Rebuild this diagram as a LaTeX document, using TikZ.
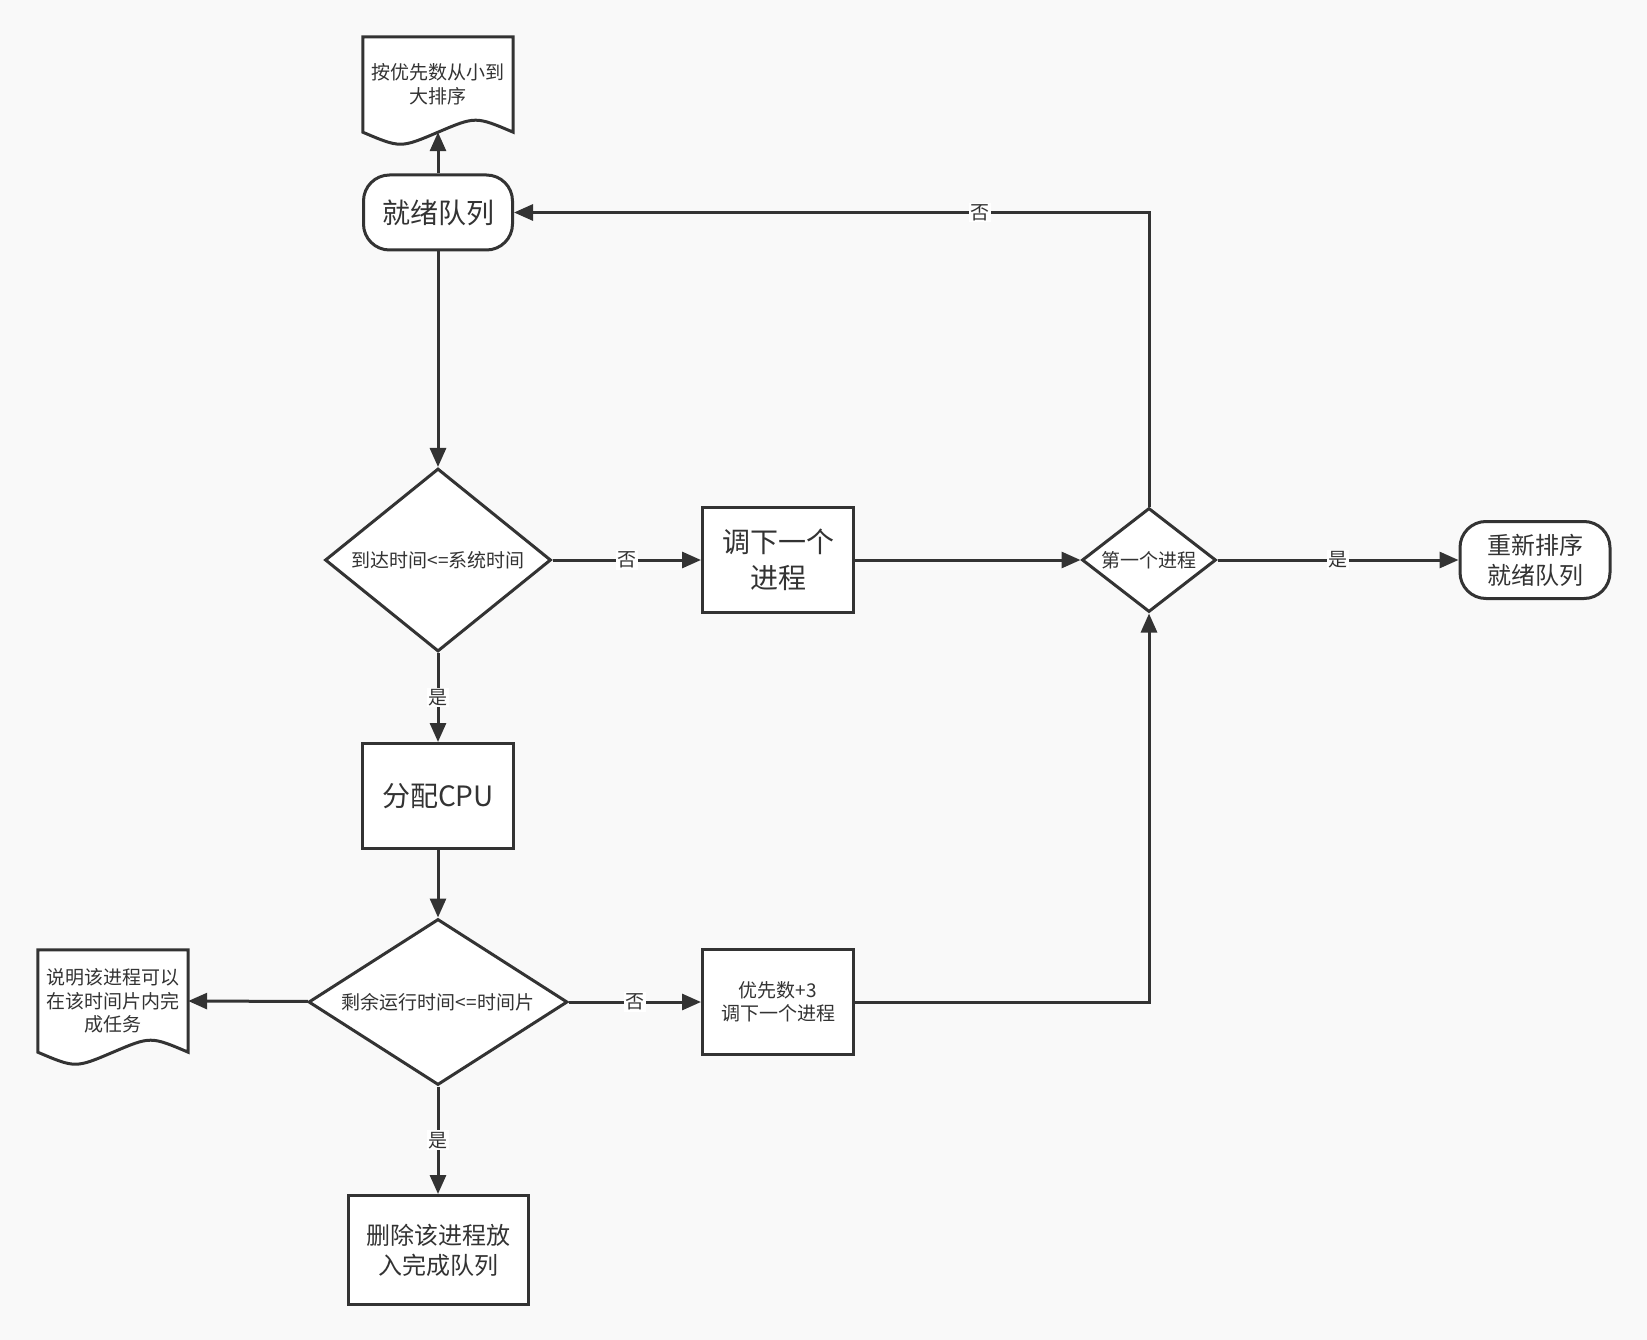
\documentclass[tikz,border=0pt]{standalone}
\usepackage{fontspec}
\setmainfont{Noto Sans CJK SC}
\usetikzlibrary{shapes.geometric,arrows.meta,backgrounds,calc}
\definecolor{linegray}{HTML}{333333}
\definecolor{pagegray}{HTML}{F9F9F9}
\newcommand{\smallcn}{\fontsize{19pt}{23.5pt}\selectfont}
\newcommand{\midcn}{\fontsize{24pt}{30pt}\selectfont}
\newcommand{\bigcn}{\fontsize{28pt}{36pt}\selectfont}
% document shape with wavy bottom, drawn behind the node text
\newcommand{\docshape}[1]{%
  \begin{pgfonlayer}{background}
    \filldraw[fill=white,draw=linegray,line width=3pt]
      (#1.south west) -- (#1.north west) -- (#1.north east) -- (#1.south east)
      .. controls ($(#1.south east)!0.5!(#1.south)+(0,-16)$) .. (#1.south)
      .. controls ($(#1.south west)!0.5!(#1.south)+(0,16)$) .. (#1.south west) -- cycle;
  \end{pgfonlayer}}
\begin{document}
\begin{tikzpicture}[x=1pt,y=-1pt,
    every node/.style={text=linegray},
    term/.style={draw=linegray,fill=white,line width=3pt,rounded corners=26pt,minimum width=149pt,minimum height=75pt,align=center},
    proc/.style={draw=linegray,fill=white,line width=3pt,minimum width=151pt,minimum height=105pt,align=center},
    decide/.style={diamond,draw=linegray,fill=white,line width=3pt,inner sep=0pt,font=\smallcn},
    doc/.style={inner sep=0pt,minimum width=150pt,align=center,font=\smallcn},
    link/.style={draw=linegray,line width=3pt,-{Triangle[length=19pt,width=16pt]}},
    yesno/.style={fill=white,inner sep=1.5pt,font=\smallcn}]
    \begin{pgfonlayer}{background}
        \fill[pagegray] (0,0) rectangle (1647,1340);
    \end{pgfonlayer}
    \useasboundingbox (0,0) rectangle (1647,1340);

    \node[doc,minimum height=95pt] (sortdoc) at (438,84.5) {按优先数从小到\\大排序};
    \node[term,font=\bigcn] (ready) at (438,212.5) {就绪队列};
    \node[decide,minimum width=226pt,minimum height=183pt,shape aspect=1.24] (arrive) at (438,560) {到达时间<=系统时间};
    \node[proc,font=\bigcn] (nextproc) at (778,560) {调下一个\\进程};
    \node[decide,minimum width=134pt,minimum height=104pt,shape aspect=1.29] (first) at (1149,560) {第一个进程};
    \node[term,font=\midcn,minimum width=150pt,minimum height=77pt] (resort) at (1535,560) {重新排序\\就绪队列};
    \node[proc,font=\bigcn] (cpu) at (438,796) {分配CPU};
    \node[decide,minimum width=259pt,minimum height=166pt,shape aspect=1.56] (remain) at (438,1002) {剩余运行时间<=时间片};
    \node[proc,font=\smallcn] (prio) at (778,1002) {优先数+3\\调下一个进程};
    \node[doc,minimum height=102pt] (donedoc) at (113,1001) {说明该进程可以\\在该时间片内完\\成任务};
    \node[proc,font=\midcn,minimum width=180pt,minimum height=109pt] (delete) at (438,1250) {删除该进程放\\入完成队列};

    \docshape{sortdoc}
    \docshape{donedoc}

    \draw[link] (ready.north) -- (sortdoc.south);
    \draw[link] (ready) -- (arrive);
    \draw[link] (arrive) -- node[yesno] {否} (nextproc);
    \draw[link] (nextproc) -- (first);
    \draw[link] (first) -- node[yesno] {是} (resort);
    \draw[link] (first.north) |- node[yesno,pos=0.633] {否} (ready.east);
    \draw[link] (arrive) -- node[yesno] {是} (cpu);
    \draw[link] (cpu) -- (remain);
    \draw[link] (remain) -- (donedoc.east);
    \draw[link] (remain) -- node[yesno] {否} (prio);
    \draw[link] (prio.east) -| (first.south);
    \draw[link] (remain) -- node[yesno] {是} (delete);
\end{tikzpicture}
\end{document}
